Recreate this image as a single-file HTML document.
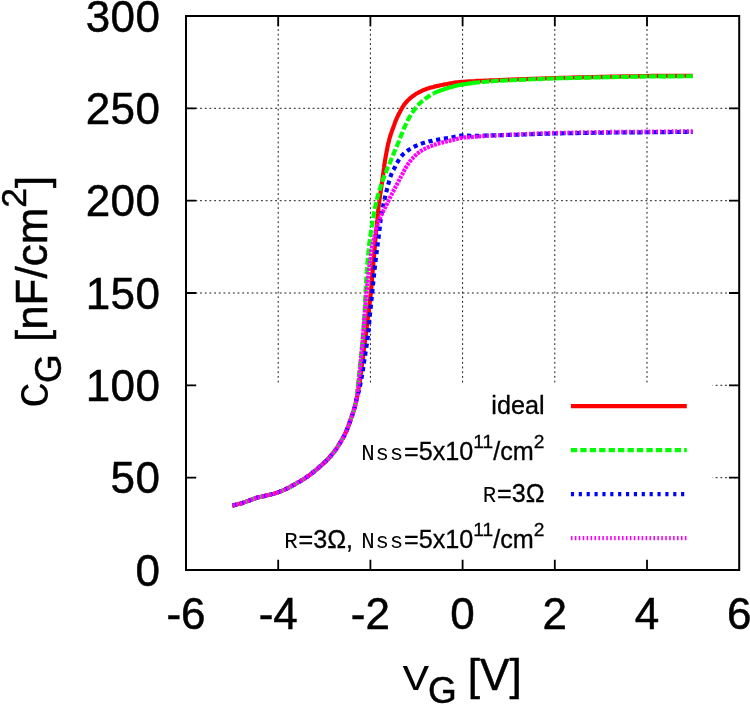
<!DOCTYPE html>
<html lang="en"><head><meta charset="utf-8"><title>C_G vs V_G</title>
<style>html,body{margin:0;padding:0;background:#fff}svg{display:block}</style></head>
<body>
<svg width="750" height="704" viewBox="0 0 750 704">
<rect width="750" height="704" fill="#fff"/>
<clipPath id="gc"><path clip-rule="evenodd" d="M0 0H750V704H0ZM196 384H712.6V569H196Z"/></clipPath>
<g clip-path="url(#gc)"><path d="M278.2 570.0V16.0" stroke="#000" stroke-width="0.9" stroke-dasharray="1.875 2.8125" fill="none"/><path d="M370.4 570.0V16.0" stroke="#000" stroke-width="0.9" stroke-dasharray="1.875 2.8125" fill="none"/><path d="M462.6 570.0V16.0" stroke="#000" stroke-width="0.9" stroke-dasharray="1.875 2.8125" fill="none"/><path d="M554.8 570.0V16.0" stroke="#000" stroke-width="0.9" stroke-dasharray="1.875 2.8125" fill="none"/><path d="M647.0 570.0V16.0" stroke="#000" stroke-width="0.9" stroke-dasharray="1.875 2.8125" fill="none"/><path d="M186.0 477.7H739.2" stroke="#000" stroke-width="0.9" stroke-dasharray="1.875 2.8125" fill="none"/><path d="M186.0 385.3H739.2" stroke="#000" stroke-width="0.9" stroke-dasharray="1.875 2.8125" fill="none"/><path d="M186.0 293.0H739.2" stroke="#000" stroke-width="0.9" stroke-dasharray="1.875 2.8125" fill="none"/><path d="M186.0 200.7H739.2" stroke="#000" stroke-width="0.9" stroke-dasharray="1.875 2.8125" fill="none"/><path d="M186.0 108.3H739.2" stroke="#000" stroke-width="0.9" stroke-dasharray="1.875 2.8125" fill="none"/></g>
<path d="M232.4 505.6L233.3 505.4L234.5 505.1L235.9 504.7L237.4 504.3L239.1 503.8L240.8 503.4L242.5 502.9L244.0 502.4L245.5 501.9L247.0 501.3L248.6 500.8L250.1 500.2L251.6 499.6L253.1 499.0L254.6 498.5L256.0 498.0L257.3 497.6L258.6 497.3L259.9 497.0L261.1 496.7L262.3 496.4L263.5 496.2L264.8 495.9L266.0 495.6L267.2 495.3L268.5 495.0L269.8 494.7L271.0 494.4L272.2 494.1L273.5 493.8L274.8 493.4L276.0 493.0L277.2 492.6L278.5 492.1L279.8 491.7L281.0 491.2L282.2 490.7L283.5 490.1L284.8 489.6L286.0 489.0L287.2 488.4L288.5 487.8L289.8 487.1L291.0 486.4L292.2 485.7L293.5 485.0L294.8 484.3L296.0 483.6L297.2 482.9L298.5 482.2L299.8 481.5L301.0 480.7L302.2 480.0L303.5 479.2L304.8 478.4L306.0 477.6L307.2 476.7L308.5 475.8L309.8 474.9L311.0 474.0L312.2 473.0L313.5 472.0L314.8 471.0L316.0 470.0L317.3 468.9L318.5 467.8L319.8 466.7L321.1 465.6L322.4 464.4L323.6 463.3L324.8 462.1L326.0 461.0L327.1 459.9L328.2 458.8L329.2 457.6L330.2 456.5L331.2 455.4L332.2 454.2L333.1 453.1L334.0 452.0L334.8 450.9L335.6 449.8L336.4 448.7L337.1 447.6L337.8 446.5L338.5 445.4L339.3 444.2L340.0 443.0L340.8 441.7L341.5 440.4L342.3 439.1L343.1 437.7L343.9 436.3L344.6 434.9L345.3 433.4L346.0 432.0L346.6 430.5L347.2 429.0L347.8 427.5L348.4 426.0L348.9 424.5L349.5 423.0L350.0 421.5L350.5 420.0L351.0 418.6L351.5 417.2L352.0 415.8L352.5 414.4L352.9 413.0L353.4 411.7L353.8 410.3L354.2 409.0L354.6 407.7L354.9 406.4L355.2 405.1L355.5 403.9L355.8 402.6L356.1 401.4L356.3 400.2L356.6 399.0L356.9 397.8L357.1 396.6L357.3 395.4L357.5 394.2L357.7 393.1L357.9 392.0L358.1 391.0L358.3 390.0L358.5 389.1L358.6 388.4L358.7 387.8L358.9 387.2L359.0 386.6L359.1 385.9L359.2 385.0L359.4 384.0L359.6 382.8L359.8 381.5L360.0 380.0L360.2 378.5L360.4 376.9L360.6 375.3L360.8 373.6L361.0 372.0L361.2 370.4L361.4 368.7L361.7 367.0L361.9 365.3L362.1 363.6L362.3 361.9L362.6 360.1L362.8 358.4L363.0 356.7L363.2 354.9L363.5 353.1L363.7 351.3L363.9 349.6L364.2 347.8L364.4 346.0L364.6 344.2L364.8 342.6L365.0 341.1L365.2 339.7L365.4 338.3L365.6 336.7L365.8 334.9L366.1 332.7L366.4 330.0L366.8 326.7L367.3 322.8L367.8 318.6L368.4 314.1L368.9 309.5L369.5 305.0L370.0 300.7L370.4 296.8L370.8 293.3L371.1 290.0L371.4 286.8L371.6 283.8L371.9 280.9L372.1 277.9L372.3 275.0L372.6 272.0L372.9 268.9L373.2 265.7L373.4 262.4L373.7 259.2L374.0 256.1L374.2 253.2L374.5 250.5L374.7 248.0L374.9 245.9L375.0 244.0L375.2 242.4L375.3 241.0L375.4 239.6L375.5 238.2L375.7 236.8L375.8 235.2L376.0 233.5L376.1 231.7L376.3 230.0L376.5 228.2L376.7 226.4L376.8 224.6L377.0 222.8L377.2 221.0L377.4 219.2L377.5 217.4L377.7 215.7L377.9 213.9L378.0 212.1L378.2 210.4L378.4 208.6L378.6 206.8L378.8 205.0L379.0 203.3L379.3 201.5L379.5 199.7L379.8 197.9L380.0 196.1L380.2 194.4L380.5 192.6L380.8 190.8L381.0 189.1L381.3 187.4L381.5 185.6L381.8 183.9L382.1 182.1L382.3 180.3L382.6 178.4L382.9 176.4L383.1 174.4L383.4 172.3L383.7 170.2L384.0 168.0L384.2 165.9L384.5 163.9L384.8 162.0L385.1 160.2L385.4 158.4L385.7 156.7L386.0 155.0L386.3 153.3L386.6 151.7L386.9 150.2L387.2 148.6L387.5 147.1L387.8 145.5L388.2 144.1L388.5 142.6L388.9 141.2L389.2 139.8L389.5 138.5L389.9 137.2L390.3 136.0L390.6 134.8L391.0 133.7L391.4 132.7L391.7 131.7L392.1 130.6L392.5 129.6L392.9 128.5L393.3 127.4L393.7 126.3L394.1 125.2L394.5 124.0L394.9 122.9L395.3 121.8L395.7 120.7L396.2 119.6L396.7 118.5L397.2 117.4L397.7 116.3L398.2 115.3L398.7 114.2L399.2 113.2L399.8 112.2L400.3 111.2L400.8 110.3L401.3 109.3L401.8 108.5L402.3 107.6L402.8 106.7L403.4 105.9L403.9 105.1L404.5 104.3L405.1 103.5L405.7 102.7L406.4 102.0L407.1 101.3L407.7 100.5L408.5 99.8L409.2 99.2L409.9 98.5L410.6 97.9L411.4 97.2L412.2 96.6L413.0 96.0L413.8 95.4L414.6 94.9L415.4 94.3L416.3 93.8L417.2 93.3L418.1 92.8L418.9 92.3L419.9 91.8L420.8 91.3L421.7 90.9L422.7 90.4L423.7 90.0L424.7 89.6L425.8 89.2L426.8 88.8L427.9 88.5L429.0 88.1L430.1 87.8L431.2 87.5L432.3 87.2L433.4 86.9L434.4 86.6L435.5 86.4L436.6 86.1L437.6 85.9L438.7 85.7L439.7 85.4L440.8 85.2L441.9 85.0L442.9 84.8L443.9 84.6L444.9 84.4L446.0 84.2L447.1 84.0L448.2 83.8L449.3 83.6L450.4 83.4L451.5 83.2L452.5 83.0L453.6 82.8L454.8 82.6L456.2 82.4L457.7 82.2L459.5 82.0L461.6 81.8L463.9 81.7L466.5 81.5L469.1 81.3L471.9 81.2L474.7 81.1L477.4 80.9L480.0 80.8L482.3 80.7L484.2 80.6L486.0 80.5L487.9 80.5L490.0 80.4L492.6 80.3L495.9 80.2L500.0 80.0L505.2 79.8L511.3 79.6L518.1 79.3L525.4 79.0L532.8 78.7L540.3 78.5L547.4 78.2L554.0 78.0L560.1 77.8L566.0 77.7L571.8 77.5L577.5 77.4L583.1 77.3L588.6 77.1L594.3 77.0L600.0 76.9L605.8 76.8L611.6 76.6L617.5 76.5L623.4 76.4L629.2 76.3L635.1 76.2L640.9 76.1L646.7 76.0L652.8 75.9L659.3 75.9L666.0 75.8L672.6 75.8L678.8 75.8L684.5 75.7L689.2 75.7L692.7 75.7" fill="none" stroke="#ff0000" stroke-width="4.15" stroke-linejoin="round"/>
<path d="M232.4 505.6L233.3 505.4L234.5 505.1L235.9 504.7L237.4 504.3L239.1 503.8L240.8 503.4L242.5 502.9L244.0 502.4L245.5 501.9L247.0 501.3L248.6 500.8L250.1 500.2L251.6 499.6L253.1 499.0L254.6 498.5L256.0 498.0L257.3 497.6L258.6 497.3L259.9 497.0L261.1 496.7L262.3 496.4L263.5 496.2L264.8 495.9L266.0 495.6L267.2 495.3L268.5 495.0L269.8 494.7L271.0 494.4L272.2 494.1L273.5 493.8L274.8 493.4L276.0 493.0L277.2 492.6L278.5 492.1L279.8 491.7L281.0 491.2L282.2 490.7L283.5 490.1L284.8 489.6L286.0 489.0L287.2 488.4L288.5 487.8L289.8 487.1L291.0 486.4L292.2 485.7L293.5 485.0L294.8 484.3L296.0 483.6L297.2 482.9L298.5 482.2L299.8 481.5L301.0 480.7L302.2 480.0L303.5 479.2L304.8 478.4L306.0 477.6L307.2 476.7L308.5 475.8L309.8 474.9L311.0 474.0L312.2 473.0L313.5 472.0L314.8 471.0L316.0 470.0L317.3 468.9L318.5 467.8L319.8 466.7L321.1 465.6L322.4 464.4L323.6 463.3L324.8 462.1L326.0 461.0L327.1 459.9L328.2 458.8L329.2 457.6L330.2 456.5L331.2 455.4L332.2 454.2L333.1 453.1L334.0 452.0L334.8 450.9L335.6 449.8L336.4 448.7L337.1 447.6L337.8 446.5L338.5 445.4L339.3 444.2L340.0 443.0L340.8 441.7L341.5 440.4L342.3 439.1L343.1 437.7L343.9 436.3L344.6 434.9L345.3 433.4L346.0 432.0L346.6 430.5L347.2 429.0L347.8 427.5L348.4 426.0L348.9 424.5L349.5 423.0L350.0 421.5L350.5 420.0L351.0 418.6L351.5 417.2L352.0 415.8L352.5 414.4L352.9 413.0L353.4 411.7L353.8 410.3L354.2 409.0L354.6 407.7L354.9 406.5L355.2 405.3L355.6 404.1L355.8 402.9L356.1 401.7L356.4 400.4L356.6 399.0L356.8 397.5L357.0 396.0L357.1 394.4L357.3 392.8L357.4 391.1L357.5 389.4L357.6 387.7L357.8 386.0L358.0 384.3L358.2 382.6L358.3 380.8L358.5 379.1L358.7 377.3L358.9 375.5L359.1 373.8L359.3 372.0L359.5 370.2L359.7 368.5L359.8 366.8L360.0 365.0L360.2 363.2L360.4 361.5L360.5 359.8L360.7 358.0L360.9 356.2L361.1 354.5L361.2 352.8L361.4 351.0L361.6 349.2L361.8 347.5L361.9 345.8L362.1 344.0L362.3 342.3L362.4 340.6L362.6 339.0L362.8 337.4L362.9 335.7L363.1 333.9L363.2 332.0L363.4 330.0L363.6 327.8L363.7 325.6L363.8 323.2L364.0 320.8L364.1 318.3L364.3 315.6L364.4 312.9L364.6 310.0L364.8 306.9L364.9 303.6L365.1 300.1L365.3 296.6L365.5 293.0L365.6 289.5L365.8 286.1L366.0 283.0L366.2 280.0L366.4 277.2L366.6 274.4L366.8 271.7L366.9 269.1L367.1 266.6L367.3 264.2L367.5 262.0L367.7 259.9L367.9 257.8L368.0 255.9L368.2 254.1L368.4 252.4L368.5 250.9L368.7 249.4L368.8 248.0L368.9 246.8L369.0 245.8L369.1 245.0L369.2 244.3L369.3 243.6L369.3 242.8L369.5 241.9L369.6 240.9L369.8 239.7L370.0 238.4L370.2 237.0L370.4 235.6L370.6 234.1L370.8 232.5L371.1 231.0L371.3 229.5L371.5 228.0L371.8 226.4L372.1 224.8L372.3 223.2L372.6 221.5L372.9 219.9L373.1 218.3L373.4 216.8L373.7 215.3L373.9 213.9L374.2 212.4L374.4 211.0L374.7 209.6L374.9 208.2L375.2 206.8L375.5 205.4L375.8 204.0L376.2 202.5L376.5 201.1L376.9 199.7L377.2 198.3L377.6 196.8L378.0 195.4L378.4 194.0L378.8 192.6L379.2 191.2L379.6 189.8L380.1 188.3L380.5 186.9L381.0 185.5L381.4 184.1L381.9 182.7L382.4 181.3L382.9 179.8L383.4 178.4L384.0 176.9L384.5 175.5L385.1 174.1L385.7 172.7L386.2 171.3L386.7 170.0L387.3 168.6L387.8 167.4L388.4 166.1L389.0 164.8L389.5 163.6L390.1 162.3L390.6 161.0L391.1 159.7L391.7 158.4L392.3 157.0L392.8 155.7L393.4 154.3L393.9 153.0L394.4 151.8L394.9 150.6L395.4 149.5L395.8 148.4L396.2 147.5L396.7 146.5L397.1 145.5L397.5 144.5L397.9 143.5L398.4 142.4L398.9 141.2L399.4 139.9L399.9 138.5L400.5 137.1L401.0 135.7L401.5 134.4L402.0 133.2L402.4 132.2L402.7 131.3L403.0 130.6L403.3 130.0L403.5 129.5L403.7 129.0L404.0 128.4L404.2 127.8L404.6 127.0L405.0 126.1L405.5 125.1L406.0 124.0L406.5 122.9L407.1 121.8L407.6 120.6L408.2 119.5L408.8 118.4L409.4 117.3L410.0 116.3L410.7 115.2L411.3 114.2L412.0 113.1L412.7 112.1L413.4 111.1L414.1 110.1L414.8 109.1L415.6 108.1L416.4 107.2L417.2 106.2L418.0 105.3L418.8 104.3L419.6 103.5L420.5 102.6L421.4 101.8L422.3 101.0L423.2 100.2L424.2 99.5L425.1 98.8L426.1 98.1L427.1 97.4L428.0 96.8L428.9 96.2L429.9 95.6L430.8 95.0L431.7 94.5L432.6 94.0L433.6 93.5" fill="none" stroke="#00ff00" stroke-width="4.15" stroke-linejoin="round" stroke-dasharray="6.9 2.5"/>
<path d="M433.6 93.5L434.5 93.0L435.5 92.5L436.5 92.0L437.6 91.6L438.6 91.2L439.7 90.8L440.8 90.4L441.9 90.0L442.9 89.7L444.0 89.3L445.1 88.9L446.2 88.6L447.3 88.2L448.3 87.9L449.4 87.6L450.5 87.3L451.5 87.0L452.5 86.7L453.4 86.4L454.3 86.2L455.1 86.0L455.9 85.8L456.7 85.6L457.5 85.4L458.5 85.2L459.5 85.0L460.6 84.8L461.9 84.6L463.2 84.4L464.6 84.2L465.9 84.0L467.3 83.8L468.7 83.6L470.0 83.4L471.2 83.2L472.3 83.1" fill="none" stroke="#00ff00" stroke-width="4.15" stroke-linejoin="round"/>
<path d="M472.3 83.1L473.3 82.9L474.4 82.8L475.5 82.6L476.8 82.5L478.3 82.4L480.0 82.2L481.8 82.0L483.5 81.9L485.3 81.7L487.2 81.6L489.6 81.4L492.4 81.2L495.8 81.0L500.0 80.8L505.2 80.5L511.3 80.3L518.1 80.0L525.4 79.6L532.8 79.3L540.3 79.0L547.4 78.7L554.0 78.5L560.1 78.3L566.0 78.1L571.8 78.0L577.5 77.9L583.1 77.7L588.6 77.6L594.3 77.5L600.0 77.4L605.8 77.3L611.6 77.1L617.5 77.0L623.4 76.9L629.2 76.8L635.1 76.7L640.9 76.6L646.7 76.5L652.8 76.4L659.3 76.4L666.0 76.3L672.6 76.3L678.8 76.3L684.5 76.2L689.2 76.2L692.7 76.2" fill="none" stroke="#00ff00" stroke-width="4.15" stroke-linejoin="round" stroke-dasharray="7.9 1.4"/>
<path d="M232.4 505.6L233.3 505.4L234.5 505.1L235.9 504.7L237.4 504.3L239.1 503.8L240.8 503.4L242.5 502.9L244.0 502.4L245.5 501.9L247.0 501.3L248.6 500.8L250.1 500.2L251.6 499.6L253.1 499.0L254.6 498.5L256.0 498.0L257.3 497.6L258.6 497.3L259.9 497.0L261.1 496.7L262.3 496.4L263.5 496.2L264.8 495.9L266.0 495.6L267.2 495.3L268.5 495.0L269.8 494.7L271.0 494.4L272.2 494.1L273.5 493.8L274.8 493.4L276.0 493.0L277.2 492.6L278.5 492.1L279.8 491.7L281.0 491.2L282.2 490.7L283.5 490.1L284.8 489.6L286.0 489.0L287.2 488.4L288.5 487.8L289.8 487.1L291.0 486.4L292.2 485.7L293.5 485.0L294.8 484.3L296.0 483.6L297.2 482.9L298.5 482.2L299.8 481.5L301.0 480.7L302.2 480.0L303.5 479.2L304.8 478.4L306.0 477.6L307.2 476.7L308.5 475.8L309.8 474.9L311.0 474.0L312.2 473.0L313.5 472.0L314.8 471.0L316.0 470.0L317.3 468.9L318.5 467.8L319.8 466.7L321.1 465.6L322.4 464.4L323.6 463.3L324.8 462.1L326.0 461.0L327.1 459.9L328.2 458.8L329.2 457.6L330.2 456.5L331.2 455.4L332.2 454.2L333.1 453.1L334.0 452.0L334.8 450.9L335.6 449.8L336.4 448.7L337.1 447.6L337.8 446.5L338.5 445.4L339.3 444.2L340.0 443.0L340.8 441.7L341.5 440.4L342.3 439.1L343.1 437.7L343.9 436.3L344.6 434.9L345.3 433.4L346.0 432.0L346.6 430.5L347.2 429.0L347.8 427.5L348.4 426.0L348.9 424.5L349.5 423.0L350.0 421.5L350.5 420.0L351.0 418.6L351.5 417.2L352.0 415.8L352.5 414.4L352.9 413.0L353.4 411.7L353.8 410.3L354.2 409.0L354.6 407.7L354.9 406.4L355.2 405.0L355.5 403.8L355.8 402.5L356.1 401.3L356.3 400.1L356.6 399.0L356.9 398.0L357.1 397.1L357.4 396.2L357.6 395.4L357.9 394.6L358.1 393.8L358.4 392.9L358.6 392.0L358.8 391.1L359.1 390.1L359.3 389.2L359.5 388.3L359.7 387.3L359.9 386.3L360.2 385.2L360.4 384.0L360.6 382.8L360.9 381.5L361.2 380.1L361.4 378.7L361.7 377.2L362.0 375.7L362.2 374.2L362.5 372.6L362.8 371.0L363.0 369.2L363.3 367.5L363.5 365.7L363.8 363.8L364.1 362.0L364.3 360.2L364.6 358.4L364.9 356.6L365.2 354.8L365.4 353.1L365.7 351.3L366.0 349.5L366.3 347.8L366.5 346.0L366.8 344.2L367.0 342.4L367.3 340.7L367.5 338.9L367.8 337.1L368.0 335.4L368.2 333.6L368.4 331.8L368.6 330.0L368.8 328.2L368.9 326.4L369.1 324.7L369.2 322.9L369.4 321.1L369.5 319.3L369.7 317.3L369.9 315.3L370.1 313.2L370.3 311.2L370.5 309.1L370.8 306.9L371.0 304.6L371.2 302.2L371.5 299.6L371.8 296.8L372.1 293.7L372.5 290.3L372.8 286.6L373.2 282.9L373.6 279.1L374.0 275.3L374.3 271.8L374.7 268.4L375.1 265.2L375.4 262.0L375.8 258.9L376.2 255.9L376.5 253.0L376.9 250.3L377.2 247.8L377.5 245.5L377.8 243.5L378.0 241.8L378.2 240.3L378.4 239.0L378.6 237.8L378.7 236.5L378.9 235.2L379.1 233.8L379.3 232.3L379.4 230.7L379.6 229.1L379.8 227.5L379.9 225.8L380.1 224.2L380.3 222.6L380.5 221.0L380.7 219.4L381.0 217.8L381.2 216.2L381.5 214.6L381.7 213.0L382.0 211.4L382.3 209.8L382.6 208.2L382.9 206.6L383.3 205.0L383.6 203.4L384.0 201.8L384.4 200.2L384.8 198.6L385.1 197.0L385.5 195.5L385.9 194.0L386.2 192.5L386.5 191.1L386.9 189.7L387.2 188.3L387.6 186.9L387.9 185.5L388.3 184.1L388.7 182.7L389.1 181.3L389.5 179.9L389.9 178.5L390.3 177.1L390.8 175.8L391.2 174.6L391.6 173.5L392.0 172.5L392.5 171.6L392.9 170.7L393.3 169.9L393.8 169.2L394.2 168.4L394.6 167.7L395.0 167.0L395.4 166.3L395.7 165.6L396.0 165.0L396.3 164.4L396.6 163.8L396.9 163.1L397.3 162.5L397.7 161.8L398.1 161.1L398.6 160.3L399.1 159.5L399.6 158.7L400.1 157.9L400.7 157.1L401.3 156.3L401.9 155.6L402.5 154.9L403.2 154.2L403.9 153.6L404.7 152.9L405.4 152.3L406.2 151.7L407.0 151.1L407.8 150.5L408.6 149.9L409.4 149.4L410.3 148.8L411.1 148.3L412.0 147.8L412.9 147.3L413.8 146.9L414.7 146.4L415.6 146.0L416.5 145.6L417.5 145.2L418.4 144.8L419.4 144.4L420.3 144.1L421.3 143.7L422.2 143.4L423.1 143.1L424.1 142.8L425.0 142.5L425.9 142.3L426.9 142.0L427.8 141.8L428.7 141.5L429.7 141.3L430.7 141.1L431.7 140.9L432.7 140.6L433.8 140.4L434.8 140.2L435.8 140.1L436.8 139.9L437.7 139.7L438.6 139.5L439.4 139.4L440.2 139.3L440.9 139.1L441.7 139.0L442.5 138.9L443.3 138.7L444.1 138.6L445.0 138.5L445.9 138.3L446.7 138.2L447.7 138.0L448.6 137.9L449.5 137.7L450.5 137.6L451.5 137.4L452.5 137.2L453.6 137.0L454.8 136.7L455.9 136.5L457.1 136.2L458.2 136.0L459.2 135.8L460.1 135.7L460.9 135.6L461.6 135.6L462.2 135.5L462.7 135.5L463.3 135.6L463.9 135.6L464.6 135.6L465.4 135.6L466.4 135.6L467.4 135.6L468.6 135.6L469.8 135.7L471.0 135.7L472.2 135.7L473.4 135.7L474.5 135.7L475.5 135.7L476.5 135.7L477.4 135.7L478.3 135.7L479.2 135.7L480.3 135.7L481.5 135.6L483.0 135.6" fill="none" stroke="#0000ff" stroke-width="4.15" stroke-linejoin="round" stroke-dasharray="4.2 3.65"/>
<path d="M483.0 135.6L484.7 135.6L486.6 135.5L488.6 135.5L490.8 135.4L493.0 135.4L495.3 135.3L497.7 135.3L500.0 135.2L502.3 135.1L504.5 135.1L506.7 135.0L508.9 134.9L511.3 134.9L513.9 134.8L516.8 134.7L520.0 134.6L523.5 134.5L527.2 134.4L531.2 134.2L535.4 134.1L539.8 133.9L544.3 133.8L549.1 133.6L554.0 133.5L559.2 133.4L564.6 133.3L570.3 133.2L576.2 133.1L582.2 133.0L588.2 132.9L594.1 132.8L600.0 132.7L605.8 132.6L611.6 132.5L617.5 132.5L623.4 132.4L629.2 132.4L635.1 132.3L640.9 132.3L646.7 132.2L652.8 132.2L659.3 132.1L666.0 132.1L672.6 132.0L678.8 132.0L684.5 131.9L689.2 131.9L692.7 131.9" fill="none" stroke="#0000ff" stroke-width="4.15" stroke-linejoin="round" stroke-dasharray="5.6 2.1"/>
<path d="M232.4 505.6L233.3 505.4L234.5 505.1L235.9 504.7L237.4 504.3L239.1 503.8L240.8 503.4L242.5 502.9L244.0 502.4L245.5 501.9L247.0 501.3L248.6 500.8L250.1 500.2L251.6 499.6L253.1 499.0L254.6 498.5L256.0 498.0L257.3 497.6L258.6 497.3L259.9 497.0L261.1 496.7L262.3 496.4L263.5 496.2L264.8 495.9L266.0 495.6L267.2 495.3L268.5 495.0L269.8 494.7L271.0 494.4L272.2 494.1L273.5 493.8L274.8 493.4L276.0 493.0L277.2 492.6L278.5 492.1L279.8 491.7L281.0 491.2L282.2 490.7L283.5 490.1L284.8 489.6L286.0 489.0L287.2 488.4L288.5 487.8L289.8 487.1L291.0 486.4L292.2 485.7L293.5 485.0L294.8 484.3L296.0 483.6L297.2 482.9L298.5 482.2L299.8 481.5L301.0 480.7L302.2 480.0L303.5 479.2L304.8 478.4L306.0 477.6L307.2 476.7L308.5 475.8L309.8 474.9L311.0 474.0L312.2 473.0L313.5 472.0L314.8 471.0L316.0 470.0L317.3 468.9L318.5 467.8L319.8 466.7L321.1 465.6L322.4 464.4L323.6 463.3L324.8 462.1L326.0 461.0L327.1 459.9L328.2 458.8L329.2 457.6L330.2 456.5L331.2 455.4L332.2 454.2L333.1 453.1L334.0 452.0L334.8 450.9L335.6 449.8L336.4 448.7L337.1 447.6L337.8 446.5L338.5 445.4L339.3 444.2L340.0 443.0L340.8 441.7L341.5 440.4L342.3 439.1L343.1 437.7L343.9 436.3L344.6 434.9L345.3 433.4L346.0 432.0L346.6 430.5L347.2 429.0L347.8 427.5L348.4 426.0L348.9 424.5L349.5 423.0L350.0 421.5L350.5 420.0L351.0 418.6L351.5 417.2L352.0 415.8L352.5 414.4L352.9 413.0L353.4 411.7L353.8 410.3L354.2 409.0L354.6 407.7L354.9 406.5L355.2 405.3L355.5 404.1L355.8 402.9L356.1 401.6L356.3 400.3L356.6 399.0L356.8 397.6L357.1 396.2L357.3 394.7L357.5 393.2L357.6 391.6L357.8 390.0L358.0 388.4L358.2 386.8L358.4 385.1L358.6 383.4L358.8 381.6L359.0 379.8L359.1 378.0L359.3 376.2L359.5 374.4L359.7 372.6L359.9 370.8L360.1 369.1L360.2 367.3L360.4 365.5L360.6 363.7L360.8 361.9L360.9 360.2L361.1 358.4L361.3 356.6L361.4 354.8L361.6 353.1L361.8 351.3L361.9 349.5L362.1 347.8L362.2 346.0L362.4 344.2L362.5 342.4L362.7 340.6L362.8 338.8L363.0 337.0L363.1 335.2L363.2 333.4L363.4 331.7L363.5 330.0L363.6 328.5L363.7 327.1L363.9 325.8L364.0 324.5L364.1 323.1L364.2 321.7L364.3 320.0L364.5 318.1L364.7 315.9L364.9 313.4L365.1 310.8L365.3 308.0L365.5 305.2L365.7 302.3L366.0 299.5L366.2 296.8L366.4 294.1L366.7 291.4L367.0 288.6L367.2 285.9L367.5 283.2L367.8 280.6L368.0 278.0L368.3 275.5L368.6 273.1L368.9 270.7L369.1 268.4L369.4 266.2L369.7 264.0L370.0 261.9L370.2 259.9L370.5 258.0L370.7 256.2L371.0 254.5L371.2 252.9L371.4 251.4L371.6 250.0L371.9 248.6L372.1 247.3L372.3 246.0L372.5 244.8L372.7 243.8L372.9 242.9L373.1 242.0L373.4 241.1L373.6 240.2L373.8 239.2L374.1 238.1L374.4 236.8L374.7 235.5L375.0 234.0L375.4 232.5L375.7 231.0L376.1 229.5L376.5 228.1L376.9 226.7L377.3 225.4L377.7 224.1L378.1 222.9L378.6 221.7L379.0 220.5L379.5 219.2L380.0 218.0L380.5 216.8L381.1 215.6L381.6 214.3L382.2 213.1L382.9 211.9L383.5 210.6L384.2 209.4L384.8 208.1L385.5 206.8L386.2 205.4L386.9 204.0L387.6 202.6L388.3 201.2L389.0 199.7L389.7 198.3L390.4 196.9L391.1 195.5L391.8 194.2L392.4 192.9L393.1 191.7L393.7 190.4L394.4 189.2L395.0 188.0L395.6 186.8L396.3 185.5L397.0 184.2L397.7 182.9L398.4 181.6L399.1 180.2L399.8 178.9L400.4 177.7L401.1 176.4L401.7 175.3L402.3 174.2L402.8 173.2L403.3 172.3L403.8 171.4L404.2 170.5L404.7 169.6L405.2 168.8L405.7 167.9L406.2 167.0L406.7 166.2L407.2 165.4L407.7 164.6L408.2 163.8L408.8 163.0L409.3 162.3L409.9 161.5L410.5 160.7L411.2 159.9L411.8 159.1L412.5 158.4L413.2 157.6L413.9 156.9L414.6 156.2L415.3 155.5L416.0 154.9L416.6 154.3L417.2 153.7L417.9 153.2L418.5 152.7L419.2 152.2L419.9 151.7L420.6 151.2L421.3 150.7L422.1 150.3L422.9 149.8L423.7 149.4L424.5 148.9L425.3 148.5L426.1 148.1L427.0 147.7L427.9 147.3L428.8 146.9L429.7 146.5L430.7 146.2L431.6 145.8L432.6 145.5L433.6 145.1L434.5 144.8L435.4 144.5L436.4 144.2L437.3 143.9L438.2 143.6L439.1 143.4L440.0 143.1L441.0 142.9L441.9 142.6L442.8 142.4L443.8 142.1L444.7 141.9L445.6 141.7L446.6 141.5L447.5 141.2L448.5 141.0L449.4 140.8L450.4 140.6L451.3 140.3L452.3 140.1L453.3 139.9L454.2 139.6L455.2 139.4L456.1 139.2L456.9 139.0L457.7 138.8L458.4 138.6L459.1 138.4L459.7 138.2L460.4 138.0L461.0 137.9L461.7 137.7L462.5 137.6L463.3 137.5L464.0 137.4L464.8 137.4L465.6 137.4L466.5 137.3L467.4 137.3L468.5 137.3L469.7 137.2L471.0 137.1L472.5 137.0L474.1 136.9L475.7 136.7L477.5 136.6L479.3 136.5L481.1 136.3L483.0 136.2" fill="none" stroke="#ff00ff" stroke-width="4.15" stroke-linejoin="round" stroke-dasharray="2.85 0.95"/>
<path d="M483.0 136.2L484.9 136.1L486.9 135.9L489.0 135.8L491.1 135.7L493.2 135.6L495.5 135.4L497.7 135.3L500.0 135.2L502.3 135.1L504.5 135.0L506.7 134.8L508.9 134.7L511.3 134.6L513.9 134.5L516.8 134.3L520.0 134.2L523.5 134.0L527.2 133.9L531.2 133.7L535.4 133.5L539.8 133.4L544.3 133.2L549.1 133.0L554.0 132.9L559.2 132.8L564.6 132.7L570.3 132.6L576.2 132.4L582.2 132.4L588.2 132.3L594.1 132.2L600.0 132.1L605.8 132.0L611.6 131.9L617.5 131.9L623.4 131.8L629.2 131.8L635.1 131.7L640.9 131.7L646.7 131.6L652.8 131.6L659.3 131.5L666.0 131.5L672.6 131.4L678.8 131.4L684.5 131.3L689.2 131.3L692.7 131.3" fill="none" stroke="#ff00ff" stroke-width="4.15" stroke-linejoin="round" stroke-dasharray="1.8 2.05"/>
<path d="M278.2 570.0v-10.2M278.2 16.0v10.2M370.4 570.0v-10.2M370.4 16.0v10.2M462.6 570.0v-10.2M462.6 16.0v10.2M554.8 570.0v-10.2M554.8 16.0v10.2M647.0 570.0v-10.2M647.0 16.0v10.2M186.0 477.7h10.2M739.2 477.7h-10.2M186.0 385.3h10.2M739.2 385.3h-10.2M186.0 293.0h10.2M739.2 293.0h-10.2M186.0 200.7h10.2M739.2 200.7h-10.2M186.0 108.3h10.2M739.2 108.3h-10.2" stroke="#000" stroke-width="1.8" fill="none"/>
<rect x="186.0" y="16.0" width="553.2" height="554.0" fill="none" stroke="#000" stroke-width="2"/>
<path d="M570.9 406.1H686.8" stroke="#ff0000" stroke-width="4.15"/>
<path d="M570.9 450.1H686.8" stroke="#00ff00" stroke-width="4.15" stroke-dasharray="6.29 3.15"/>
<path d="M570.9 494.1H686.8" stroke="#0000ff" stroke-width="4.15" stroke-dasharray="3.15 4.72"/>
<path d="M570.9 538.1H686.8" stroke="#ff00ff" stroke-width="4.15" stroke-dasharray="1.57 2.36"/>
<g style="font-family:'Liberation Sans',sans-serif;font-size:44.0px" fill="#000" stroke="#000" stroke-width="0.5">
<text x="160.4" y="585.6" text-anchor="end" style="letter-spacing:0.45px">0</text>
<text x="160.4" y="493.3" text-anchor="end" style="letter-spacing:0.45px">50</text>
<text x="160.4" y="400.9" text-anchor="end" style="letter-spacing:0.45px">100</text>
<text x="160.4" y="308.6" text-anchor="end" style="letter-spacing:0.45px">150</text>
<text x="160.4" y="216.3" text-anchor="end" style="letter-spacing:0.45px">200</text>
<text x="160.4" y="123.9" text-anchor="end" style="letter-spacing:0.45px">250</text>
<text x="160.4" y="31.6" text-anchor="end" style="letter-spacing:0.45px">300</text>
<text x="186.0" y="628.7" text-anchor="middle">-6</text>
<text x="278.2" y="628.7" text-anchor="middle">-4</text>
<text x="370.4" y="628.7" text-anchor="middle">-2</text>
<text x="462.6" y="628.7" text-anchor="middle">0</text>
<text x="554.8" y="628.7" text-anchor="middle">2</text>
<text x="647.0" y="628.7" text-anchor="middle">4</text>
<text x="739.2" y="628.7" text-anchor="middle">6</text>
</g>
<text transform="translate(402.6 689.6) scale(1.2 1)" style="font-family:'Liberation Mono',monospace;font-size:37px" fill="#000">V</text>
<text x="428" y="689.6" style="font-family:'Liberation Sans',sans-serif;font-size:44.0px" fill="#000" stroke="#000" stroke-width="0.5"><tspan style="font-size:37px" dy="13.6">G</tspan><tspan dy="-13.6" dx="-1.2"> [V]</tspan></text>
<text transform="translate(47.7 408.1) rotate(-90) scale(1.09 1)" style="font-family:'Liberation Mono',monospace;font-size:40px" fill="#000">C</text>
<text transform="translate(46.5 411.4) rotate(-90)" style="font-family:'Liberation Sans',sans-serif;font-size:44.0px" fill="#000" stroke="#000" stroke-width="0.5"><tspan x="28.3" style="font-size:37px" dy="14.5">G</tspan><tspan dy="-14.5"> [nF/cm</tspan><tspan style="font-size:35.5px" dy="-21">2</tspan><tspan dy="21">]</tspan></text>
<g style="font-family:'Liberation Sans',sans-serif;font-size:25.2px" fill="#000" stroke="#000" stroke-width="0.3" text-anchor="end">
<text x="544.5" y="414.3">ideal</text>
<text x="544.5" y="460.4"><tspan style="font-family:'Liberation Mono',monospace;font-size:22.4px;letter-spacing:0.8px" stroke="none">Nss</tspan>=5x10<tspan style="font-size:19.2px" dy="-12">11</tspan><tspan dy="12">/cm</tspan><tspan style="font-size:19.2px" dy="-12">2</tspan></text>
<text x="544.5" y="502.3"><tspan style="font-family:'Liberation Mono',monospace;font-size:22.4px;letter-spacing:0.8px" stroke="none">R</tspan>=3Ω</text>
<text x="544.5" y="548.3"><tspan style="font-family:'Liberation Mono',monospace;font-size:22.4px;letter-spacing:0.8px" stroke="none">R</tspan>=3Ω,<tspan dx="1.3"> </tspan><tspan style="font-family:'Liberation Mono',monospace;font-size:22.4px;letter-spacing:0.8px" stroke="none">Nss</tspan>=5x10<tspan style="font-size:19.2px" dy="-12">11</tspan><tspan dy="12">/cm</tspan><tspan style="font-size:19.2px" dy="-12">2</tspan></text>
</g>
</svg>
</body></html>
